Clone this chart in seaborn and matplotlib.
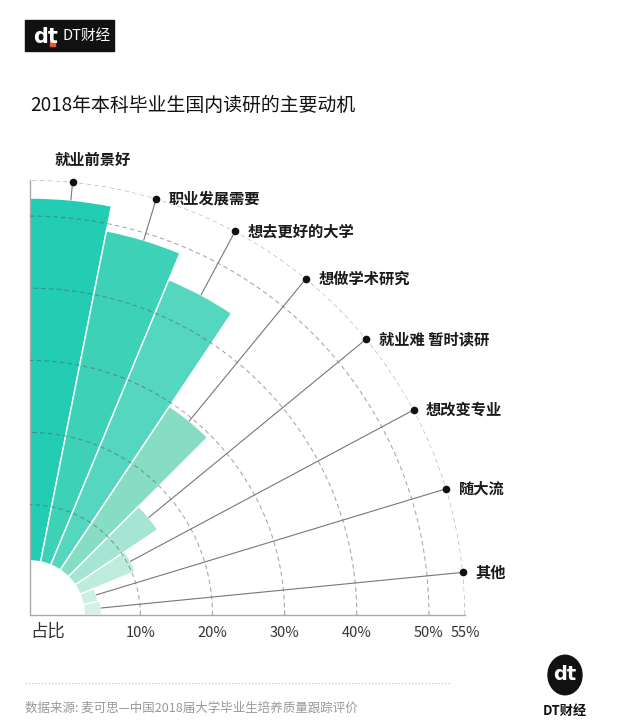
import numpy as np
import matplotlib.pyplot as plt
import seaborn as sns
from matplotlib.patches import Rectangle, Circle

# data
motives = ["就业前景好", "职业发展需要", "想去更好的大学", "想做学术研究",
           "就业难 暂时读研", "想改变专业", "随大流", "其他"]
share = [52.5, 49, 45, 29.5, 16, 10.5, 4.3, 4.6]
ticks = [10, 20, 30, 40, 50, 55]
tick_labels = ["10%", "20%", "30%", "40%", "50%", "55%"]
colors = ["#22CDB3", "#3DD2B7", "#55D6BE", "#86DDC4", "#A6E5D2",
          "#BDEBDC", "#CBEFE4", "#D4F1E8"]

sns.set_theme(style="white")
plt.rcParams['font.family'] = ['Noto Sans CJK SC', 'DejaVu Sans']

fig = plt.figure(figsize=(6.23, 7.23), dpi=100)
W, H = 623, 723
cx, cy, R = 30, 615, 435
ax = fig.add_axes([cx / W, (H - cy) / H, R / W, R / H], projection='polar')
ax.set_thetamin(0)
ax.set_thetamax(90)
ax.set_ylim(-5.3, 55)

n = len(motives)
step = np.deg2rad(90 / n)
theta = np.deg2rad(90) - step * (np.arange(n) + 0.5)
hole = 2.2

ax.bar(theta, np.array(share) - hole, width=step, bottom=hole,
       color=colors, edgecolor="white", linewidth=1, zorder=2)

# grid arcs
ax.set_yticks(ticks)
ax.set_yticklabels([])
ax.set_xticks([])
ax.grid(False)
arc = np.linspace(0, np.pi / 2, 200)
for t in ticks:
    ax.plot(arc, np.full_like(arc, t), ls=(0, (4, 3)), color="#555555",
            lw=0.8, alpha=0.5, zorder=3)

ax.spines['polar'].set_visible(False)
ax.spines['inner'].set_visible(False)
for s in ['start', 'end']:
    ax.spines[s].set_color("#aaaaaa")
    ax.spines[s].set_linewidth(1)

# leader lines, dots, labels
for i, (th, v, lab) in enumerate(zip(theta, share, motives)):
    ax.plot([th, th], [v, 55], color="#777777", lw=0.8, zorder=4, clip_on=False)
    ax.plot(th, 55, "o", color="#111111", ms=4.5, zorder=5, clip_on=False)
    if i == 0:
        ax.annotate(lab, (th, 55), xytext=(-13, 16), textcoords="offset points",
                    ha="left", va="center", fontsize=11, fontweight="bold",
                    color="#1a1a1a", annotation_clip=False)
    else:
        ax.annotate(lab, (th, 55), xytext=(9, 0), textcoords="offset points",
                    ha="left", va="center", fontsize=11, fontweight="bold",
                    color="#1a1a1a", annotation_clip=False)

for t, tl in zip(ticks, tick_labels):
    ax.annotate(tl, (0, t), xytext=(0, -13), textcoords="offset points",
                ha="center", va="center", fontsize=10.5, fontweight="light",
                color="#333333", annotation_clip=False)
fig.text(30 / W, 1 - 632 / H, "占比", fontsize=12.5, fontweight="light",
         color="#333333", ha="left", va="center")

# title
fig.text(30 / W, 1 - 105 / H, "2018年本科毕业生国内读研的主要动机",
         fontsize=13.6, fontweight="medium", color="#111111", ha="left", va="center")

# top logo
fig.patches.append(Rectangle((25 / W, 1 - 51 / H), 89 / W, 31 / H,
                             transform=fig.transFigure, color="#111111"))
fig.text(33 / W, 1 - 37 / H, "dt", fontsize=15, fontweight="bold",
         color="white", ha="left", va="center", family="DejaVu Sans")
fig.patches.append(Rectangle((50 / W, 1 - 46 / H), 5 / W, 5 / H,
                             transform=fig.transFigure, color="#e8553a"))
fig.text(63 / W, 1 - 36 / H, "DT财经", fontsize=10.5, color="white",
         ha="left", va="center")

# footer
fig.add_artist(plt.Line2D([25 / W, 450 / W], [1 - 683 / H, 1 - 683 / H],
                          transform=fig.transFigure, color="#bbbbbb",
                          lw=0.8, ls=(0, (1, 2))))
fig.text(25 / W, 1 - 708 / H, "数据来源: 麦可思—中国2018届大学毕业生培养质量跟踪评价",
         fontsize=9, fontweight="light", color="#999999", ha="left", va="center")
fig.patches.append(Circle((565 / W, 1 - 675 / H), 17 / W,
                          transform=fig.transFigure, color="#111111"))
fig.text(565 / W, 1 - 675 / H, "dt", fontsize=14, fontweight="bold",
         color="white", ha="center", va="center", family="DejaVu Sans")
fig.text(565 / W, 1 - 711 / H, "DT财经", fontsize=9.5, fontweight="bold",
         color="#111111", ha="center", va="center")

fig.savefig("out.png", dpi=100, facecolor="white")
